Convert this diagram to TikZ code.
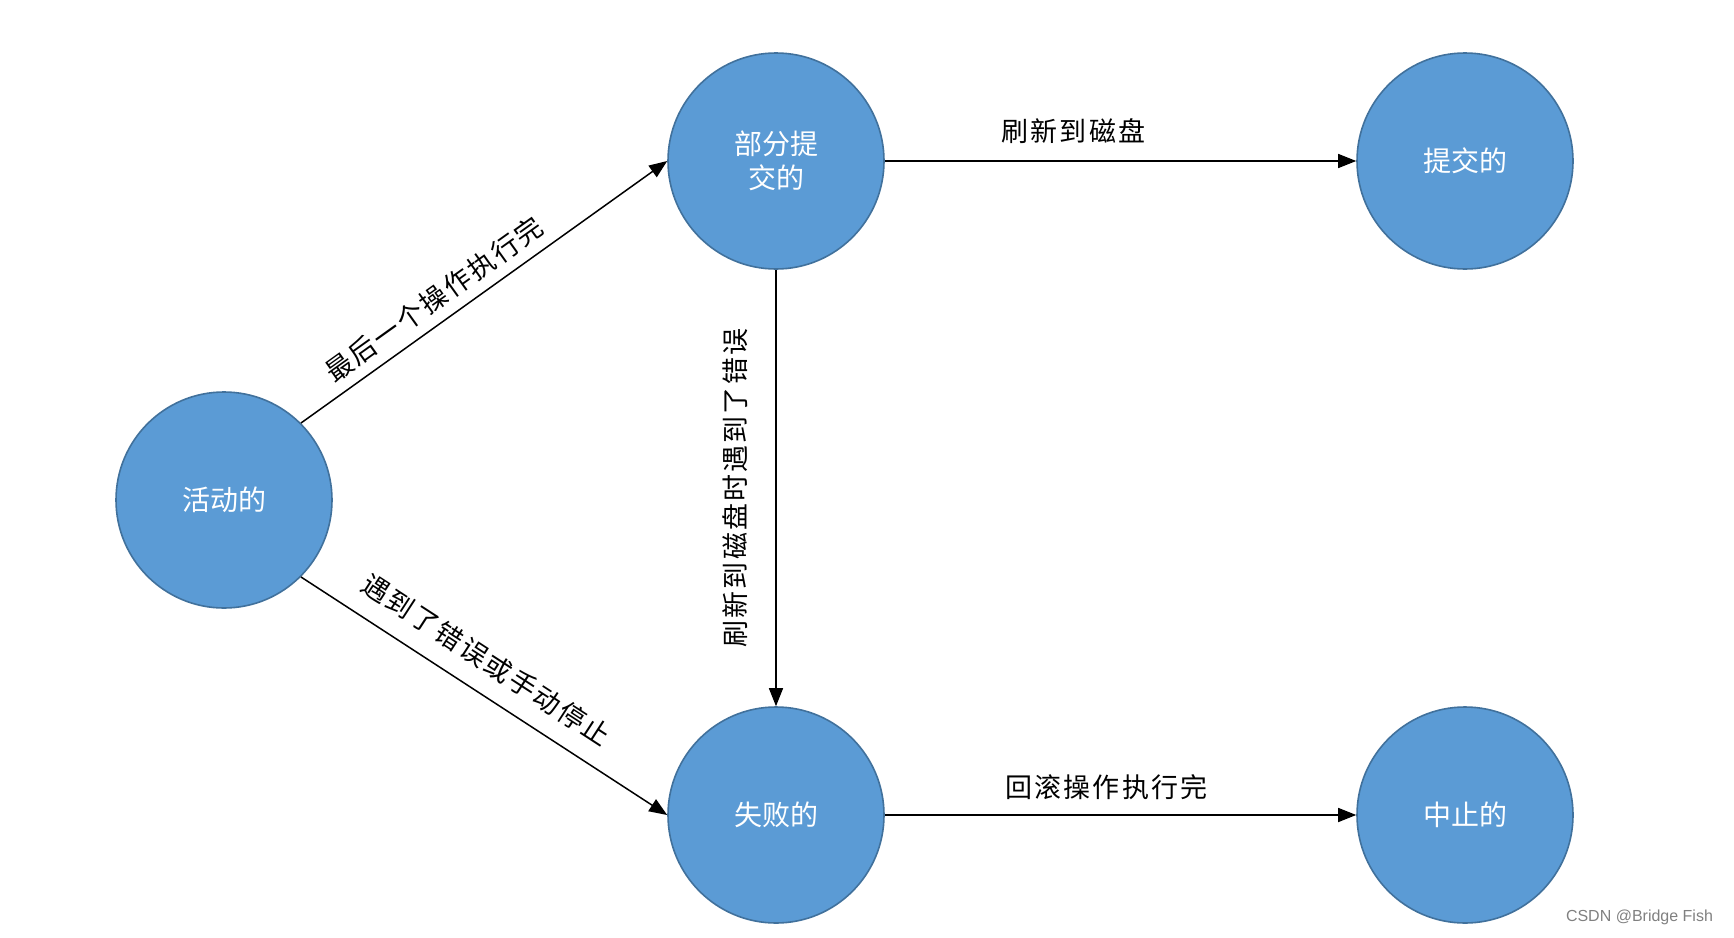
\documentclass[tikz,border=0pt]{standalone}
\usepackage{fontspec}
\setmainfont{Noto Sans CJK SC}
\newfontfamily\wmfont{Liberation Sans}
\newfontfamily\lblfont[LetterSpace=8]{Noto Sans CJK SC}
\usetikzlibrary{arrows.meta}
\definecolor{stateblue}{HTML}{5B9BD5}
\definecolor{stateedge}{HTML}{41719C}
\tikzset{
    txstate/.style={circle, fill=stateblue, draw=stateedge, line width=0.8pt,
        minimum size=108pt, inner sep=0pt, text=white, align=center,
        font=\fontsize{14}{17}\selectfont},
    txedge/.style={-{Triangle[length=9pt,width=7pt]}, line width=0.75pt},
    txlabel/.style={font=\lblfont\fontsize{13.5}{16}\selectfont, inner sep=0pt}
}
\newcommand{\txnode}[4]{
    \node[txstate] (#1) at (#2, #3) {#4};
}

\begin{document}
\begin{tikzpicture}[x=0.5pt, y=-0.5pt]
    \useasboundingbox (0, 0) rectangle (1734, 937);

    \txnode{active}{224}{500}{活动的}
    \txnode{partial}{776}{161}{部分提\\交的}
    \txnode{committed}{1465}{161}{提交的}
    \txnode{failed}{776}{815}{失败的}
    \txnode{aborted}{1465}{815}{中止的}

    \draw[txedge] (active.45) -- node[txlabel, sloped, pos=0.40, above=5pt] {最后一个操作执行完} (partial.west);
    \draw[txedge] (active.-45) -- node[txlabel, sloped, pos=0.46, above=9pt] {遇到了错误或手动停止} (failed.west);
    \draw[txedge] (partial.south) -- node[txlabel, pos=0.5, xshift=-20.5pt, rotate=90] {刷新到磁盘时遇到了错误} (failed.north);
    \draw[txedge] (partial.east) -- node[txlabel, pos=0.40, yshift=15pt] {刷新到磁盘} (committed.west);
    \draw[txedge] (failed.east) -- node[txlabel, pos=0.47, yshift=14pt] {回滚操作执行完} (aborted.west);

    \node[font=\wmfont\fontsize{8}{10}\selectfont, text=gray, anchor=east] (mark) at (1720, 917) {CSDN @Bridge Fish};
\end{tikzpicture}
\end{document}
